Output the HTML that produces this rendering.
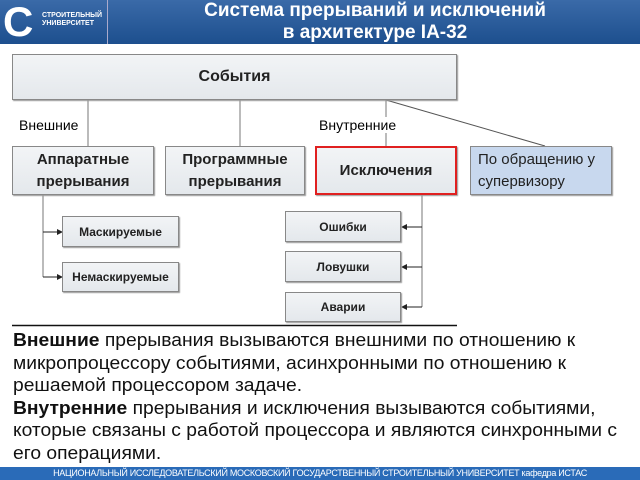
<!DOCTYPE html>
<html><head><meta charset="utf-8"><style>
body{margin:0;width:640px;height:480px;overflow:hidden;background:#fff;font-family:"Liberation Sans",sans-serif;position:relative}
.hdr{position:absolute;left:0;top:0;width:640px;height:44px;background:linear-gradient(#3a6aa8,#1d4f8e)}
.ft{position:absolute;left:0;top:467px;width:640px;height:13px;background:#2a6bb8;color:#fff;font-size:9px;text-align:center;line-height:13px;letter-spacing:-0.3px}
.b{position:absolute;box-sizing:border-box;border:1px solid #888;background:linear-gradient(#f2f4f6,#e4e8ec);display:flex;align-items:center;justify-content:center;text-align:center;font-weight:bold;color:#222;box-shadow:1px 1px 1px #999}
.t{position:absolute;font-size:18px;line-height:22.5px;color:#111;left:13px;top:329px;white-space:nowrap;transform:scaleX(1.07);transform-origin:0 0}
</style></head><body>
<div class="hdr"></div>
<div style="position:absolute;left:3px;top:3px;width:34px;height:38px;font-size:42px;line-height:38px;color:#fff;font-weight:bold">C</div>
<div style="position:absolute;left:42px;top:12px;color:#fff;font-size:7px;font-weight:bold;line-height:8px">СТРОИТЕЛЬНЫЙ<br>УНИВЕРСИТЕТ</div>
<div style="position:absolute;left:107px;top:0;width:1px;height:44px;background:#aac"></div>
<div style="position:absolute;left:110px;top:0;width:530px;text-align:center;color:#fff;font-weight:bold;font-size:19px;line-height:22px">Система прерываний и исключений<br>в архитектуре IA-32</div>
<svg style="position:absolute;left:0;top:0" width="640" height="480">
<defs><marker id="a" markerWidth="6" markerHeight="6" refX="5" refY="3" orient="auto"><path d="M0,0L6,3L0,6z" fill="#222"/></marker></defs>
<g stroke="#777" stroke-width="1" fill="none">
<line x1="88" y1="100" x2="88" y2="146"/><line x1="240" y1="100" x2="240" y2="146"/><line x1="386" y1="100" x2="386" y2="146"/>
<line x1="386" y1="100" x2="545" y2="146" stroke="#555"/>
<line x1="43" y1="195" x2="43" y2="277"/>
<line x1="43" y1="232" x2="62" y2="232" stroke="#222" marker-end="url(#a)"/>
<line x1="43" y1="277" x2="62" y2="277" stroke="#222" marker-end="url(#a)"/>
<line x1="422" y1="195" x2="422" y2="307"/>
<line x1="422" y1="227" x2="402" y2="227" stroke="#222" marker-end="url(#a)"/>
<line x1="422" y1="267" x2="402" y2="267" stroke="#222" marker-end="url(#a)"/>
<line x1="422" y1="307" x2="402" y2="307" stroke="#222" marker-end="url(#a)"/>
<line x1="12" y1="325.5" x2="457" y2="325.5" stroke="#111" stroke-width="1.5"/>
</g></svg>
<div class="b" style="left:12px;top:54px;width:445px;height:46px;font-size:16px">События</div>
<div style="position:absolute;left:19px;top:117px;font-size:14px;background:#fff">Внешние</div>
<div style="position:absolute;left:319px;top:117px;font-size:14px;background:#fff">Внутренние</div>
<div class="b" style="left:12px;top:146px;width:142px;height:49px;font-size:15px;line-height:22px">Аппаратные<br>прерывания</div>
<div class="b" style="left:165px;top:146px;width:140px;height:49px;font-size:15px;line-height:22px">Программные<br>прерывания</div>
<div class="b" style="left:315px;top:146px;width:142px;height:49px;font-size:15px;border:2px solid #e02020">Исключения</div>
<div class="b" style="left:470px;top:146px;width:142px;height:49px;font-size:15px;font-weight:normal;background:#c8d8ee;justify-content:flex-start;text-align:left;padding-left:7px;line-height:22px">По обращению у<br>супервизору</div>
<div class="b" style="left:62px;top:216px;width:117px;height:31px;font-size:12px">Маскируемые</div>
<div class="b" style="left:62px;top:262px;width:117px;height:30px;font-size:12px">Немаскируемые</div>
<div class="b" style="left:285px;top:211px;width:116px;height:31px;font-size:12px">Ошибки</div>
<div class="b" style="left:285px;top:251px;width:116px;height:31px;font-size:12px">Ловушки</div>
<div class="b" style="left:285px;top:292px;width:116px;height:30px;font-size:12px">Аварии</div>
<div class="t"><b>Внешние</b> прерывания вызываются внешними по отношению к<br>микропроцессору событиями, асинхронными по отношению к<br>решаемой процессором задаче.<br><b>Внутренние</b> прерывания и исключения вызываются событиями,<br>которые связаны с работой процессора и являются синхронными с<br>его операциями.</div>
<div class="ft">НАЦИОНАЛЬНЫЙ ИССЛЕДОВАТЕЛЬСКИЙ МОСКОВСКИЙ ГОСУДАРСТВЕННЫЙ СТРОИТЕЛЬНЫЙ УНИВЕРСИТЕТ кафедра ИСТАС</div>
</body></html>
